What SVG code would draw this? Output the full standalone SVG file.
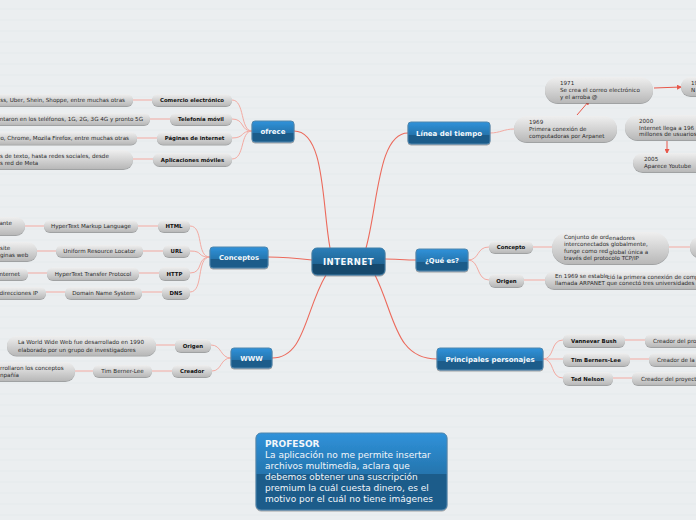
<svg xmlns="http://www.w3.org/2000/svg" width="696" height="520" viewBox="0 0 696 520">
<style>
text{font-family:"DejaVu Sans",Verdana,sans-serif}
.g{fill:url(#gray);filter:url(#sh)}
.b{fill:url(#blue);stroke:#4f86ad;stroke-width:1;filter:url(#sh)}
.t{font-size:5.6px;fill:#2a2a2a}
.k{font-size:5.4px;font-weight:bold;fill:#111}
.m{font-size:6.8px;font-weight:bold;fill:#f4f8fb}
.w{font-size:7px}
.c{fill:none;stroke:#ec6a5c;stroke-width:1.1}
.p{fill:none;stroke:#f3aaa2;stroke-width:1}
.a{fill:none;stroke:#e8574a;stroke-width:1;marker-end:url(#ah)}
</style>
<defs>
<pattern id="bg" width="8" height="11" patternUnits="userSpaceOnUse"><rect width="8" height="11" fill="#ebeef0"/><rect y="8" width="8" height="2" fill="#e8ecee"/></pattern>
<linearGradient id="gray" x1="0" y1="0" x2="0" y2="1"><stop offset="0" stop-color="#efefef"/><stop offset="1" stop-color="#b8b8b8"/></linearGradient>
<linearGradient id="blue" x1="0" y1="0" x2="0" y2="1"><stop offset="0" stop-color="#3092da"/><stop offset=".58" stop-color="#2575ae"/><stop offset=".58" stop-color="#1f5c8a"/><stop offset="1" stop-color="#1f5c8a"/></linearGradient>
<linearGradient id="blue2" x1="0" y1="0" x2="0" y2="1"><stop offset="0" stop-color="#3092da"/><stop offset=".53" stop-color="#2575ae"/><stop offset=".53" stop-color="#1f5c8a"/><stop offset="1" stop-color="#1f5c8a"/></linearGradient>
<linearGradient id="blued" x1="0" y1="0" x2="0" y2="1"><stop offset="0" stop-color="#2c7fb9"/><stop offset=".6" stop-color="#1f6494"/><stop offset=".6" stop-color="#174a6d"/><stop offset="1" stop-color="#174a6d"/></linearGradient>
<filter id="sh" x="-10%" y="-20%" width="120%" height="150%"><feDropShadow dx="0" dy="1" stdDeviation=".7" flood-color="#555" flood-opacity=".5"/></filter>
<marker id="ah" markerWidth="5" markerHeight="5" refX="4" refY="2.5" orient="auto" markerUnits="userSpaceOnUse"><path d="M0 0L5 2.5L0 5z" fill="#e8574a"/></marker>
</defs>
<rect width="696" height="520" fill="url(#bg)"/>
<g id="connectors">
<path class="c" d="M330 248C322 205 325 131 294 131"/>
<path class="c" d="M366 248C378 205 378 133 408 133"/>
<path class="c" d="M312 260C295 258 285 257 268 257"/>
<path class="c" d="M385 259C395 259 405 260 416 260"/>
<path class="c" d="M326 275C305 310 305 358 272 358"/>
<path class="c" d="M375 275C395 315 395 359 437 359"/>
<path class="p" d="M252 131C240 131 245 100 232 100"/>
<path class="p" d="M252 131C240 131 245 119 232 119"/>
<path class="p" d="M252 131C240 131 245 138 232 138"/>
<path class="p" d="M252 131C240 131 245 159 232 159"/>
<path class="p" d="M152 100H133M170 119H150M157 138H137M153 159H133"/>
<path class="p" d="M210 257C196 257 204 226 190 226"/>
<path class="p" d="M210 257C196 257 204 251 190 251"/>
<path class="p" d="M210 257C196 257 204 273 190 273"/>
<path class="p" d="M210 257C196 257 204 292 190 292"/>
<path class="p" d="M158 226H138M163 251H143M159 273H139M162 292H142M44 226H25M56 251H37M47 273H28M65 292H46"/>
<path class="p" d="M231 358C220 358 222 345 211 345"/>
<path class="p" d="M231 358C220 358 222 371 212 371"/>
<path class="p" d="M175 345H156M172 371H152M93 371H75"/>
<path class="p" d="M490 133C500 133 504 129 514 129"/>
<path class="p" d="M468 260C480 260 476 247 489 247"/>
<path class="p" d="M468 260C480 260 476 280 489 280"/>
<path class="p" d="M533 247H552M524 280H545M669 247H690"/>
<path class="p" d="M543 359C555 359 550 340 563 340"/>
<path class="p" d="M543 359H563"/>
<path class="p" d="M543 359C555 359 550 378 563 378"/>
<path class="p" d="M625 340H645M630 359H649M613 378H632"/>
<path class="a" d="M577 115L589 101"/>
<path class="a" d="M654 88L681 87"/>
<path class="a" d="M667 141V153"/>
</g>
<g id="internet"><rect x="312" y="248" width="73" height="27" rx="5" fill="url(#blued)" stroke="#3f7ea8" filter="url(#sh)"/><text class="m" x="348.500" y="265" text-anchor="middle" style="font-size:8.500px" letter-spacing=".5">INTERNET</text></g>
<g id="ofrece"><rect class="b" x="252" y="121" width="42" height="21" rx="3"/><text class="m w" x="273" y="134" text-anchor="middle">ofrece</text></g>
<g id="conceptos"><rect class="b" x="210" y="247" width="58" height="21" rx="3"/><text class="m" x="239" y="260" text-anchor="middle">Conceptos</text></g>
<g id="www"><rect class="b" x="231" y="348" width="41" height="20" rx="3"/><text class="m" x="251.500" y="361" text-anchor="middle">WWW</text></g>
<g id="linea"><rect class="b" x="408" y="122" width="82" height="22" rx="3"/><text class="m w" x="449" y="135.500" text-anchor="middle">Línea del tiempo</text></g>
<g id="que"><rect class="b" x="416" y="249" width="52" height="22" rx="3"/><text class="m" x="442" y="262.500" text-anchor="middle">¿Qué es?</text></g>
<g id="personajes"><rect class="b" x="437" y="348" width="106" height="22" rx="3"/><text class="m w" x="490" y="361.500" text-anchor="middle">Principales personajes</text></g>

<g id="comercio"><rect class="g" x="152" y="94" width="80" height="12" rx="6"/><text class="k" x="192" y="102" text-anchor="middle">Comercio electrónico</text></g>
<g id="telefonia"><rect class="g" x="170" y="113" width="62" height="12" rx="6"/><text class="k" x="201" y="121" text-anchor="middle">Telefonía móvil</text></g>
<g id="paginas"><rect class="g" x="157" y="132" width="75" height="12.500" rx="6"/><text class="k" x="194.500" y="140" text-anchor="middle">Páginas de internet</text></g>
<g id="apps"><rect class="g" x="153" y="153" width="79" height="13" rx="6.500"/><text class="k" x="192.500" y="162" text-anchor="middle">Aplicaciones móviles</text></g>
<g id="l1"><rect class="g" x="-20" y="94" width="153" height="12" rx="6"/><text class="t" x="125" y="101.800" text-anchor="end">ss, Uber, Shein, Shoppe, entre muchas otras</text></g>
<g id="l2"><rect class="g" x="-20" y="113" width="170" height="12" rx="6"/><text class="t" x="143" y="120.800" text-anchor="end">ntaron en los teléfonos, 1G, 2G, 3G 4G y pronto 5G</text></g>
<g id="l3"><rect class="g" x="-20" y="132" width="157" height="12.500" rx="6"/><text class="t" x="129" y="139.800" text-anchor="end">eo, Chrome, Mozila Firefox, entre muchas otras</text></g>
<g id="l4"><rect class="g" x="-30" y="150" width="163" height="19" rx="9.500"/><text class="t" x="0" y="158">s de texto, hasta redes sociales, desde</text><text class="t" x="0" y="165">s red de Meta</text></g>

<g id="html"><rect class="g" x="158" y="220" width="32" height="12" rx="6"/><text class="k" x="174" y="228" text-anchor="middle">HTML</text></g>
<g id="url"><rect class="g" x="163" y="245" width="27" height="12" rx="6"/><text class="k" x="176.500" y="253" text-anchor="middle">URL</text></g>
<g id="http"><rect class="g" x="159" y="267" width="31" height="13" rx="6"/><text class="k" x="174.500" y="276" text-anchor="middle">HTTP</text></g>
<g id="dns"><rect class="g" x="162" y="286" width="28" height="13" rx="6"/><text class="k" x="176" y="295" text-anchor="middle">DNS</text></g>
<g id="hml"><rect class="g" x="44" y="220" width="94" height="12" rx="6"/><text class="t" x="91" y="228" text-anchor="middle">HyperText Markup Language</text></g>
<g id="url2"><rect class="g" x="56" y="245" width="87" height="12" rx="6"/><text class="t" x="99.500" y="253" text-anchor="middle">Uniform Resource Locator</text></g>
<g id="htp"><rect class="g" x="47" y="267.500" width="92" height="12.500" rx="6"/><text class="t" x="93" y="276" text-anchor="middle">HyperText Transfer Protocol</text></g>
<g id="dns2"><rect class="g" x="65" y="287" width="77" height="12" rx="6"/><text class="t" x="103.500" y="295" text-anchor="middle">Domain Name System</text></g>
<g id="l5"><rect class="g" x="-30" y="217" width="55" height="18" rx="9"/><text class="t" x="12" y="224.500" text-anchor="end">ante</text></g>
<g id="l6"><rect class="g" x="-30" y="242" width="67" height="19" rx="9.500"/><text class="t" x="0" y="250">site</text><text class="t" x="0" y="257">ginas web</text></g>
<g id="l7"><rect class="g" x="-20" y="268" width="48" height="12" rx="6"/><text class="t" x="20" y="275.500" text-anchor="end">Internet</text></g>
<g id="l8"><rect class="g" x="-20" y="287" width="66" height="12" rx="6"/><text class="t" x="38" y="294.500" text-anchor="end">direcciones IP</text></g>

<g id="origen1"><rect class="g" x="175" y="339" width="36" height="13" rx="6"/><text class="k" x="193" y="347.500" text-anchor="middle">Origen</text></g>
<g id="creador"><rect class="g" x="172" y="365" width="40" height="12" rx="6"/><text class="k" x="192" y="373" text-anchor="middle">Creador</text></g>
<g id="tim"><rect class="g" x="93" y="365" width="59" height="12" rx="6"/><text class="t" x="122.500" y="373" text-anchor="middle">Tim Berner-Lee</text></g>
<g id="l9"><rect class="g" x="7" y="336" width="149" height="19.500" rx="9.500"/><text class="t" x="18" y="344">La World Wide Web fue desarrollado en 1990</text><text class="t" x="18" y="351.500">elaborado por un grupo de investigadores</text></g>
<g id="l10"><rect class="g" x="-30" y="362" width="105" height="19" rx="9.500"/><text class="t" x="0" y="369.500">rrollaron los conceptos</text><text class="t" x="0" y="377">npañía</text></g>

<g id="y1969"><rect class="g" x="514" y="116" width="103" height="26" rx="13"/><text class="t" x="529" y="124">1969</text><text class="t" x="529" y="131">Primera conexión de</text><text class="t" x="529" y="137.500">computadoras por Arpanet</text></g>
<g id="y1971"><rect class="g" x="545" y="77" width="108" height="26" rx="13"/><text class="t" x="560" y="85">1971</text><text class="t" x="560" y="92">Se crea el correo electrónico</text><text class="t" x="560" y="98.500">y el arroba @</text></g>
<g id="y19"><rect class="g" x="681" y="77" width="40" height="19" rx="9.500"/><text class="t" x="691" y="85">19</text><text class="t" x="691" y="92">N</text></g>
<g id="y2000"><rect class="g" x="625" y="115" width="100" height="25" rx="12.500"/><text class="t" x="639" y="123">2000</text><text class="t" x="639" y="130">Internet llega a 196</text><text class="t" x="639" y="136">millones de usuarios</text></g>
<g id="y2005"><rect class="g" x="633" y="153" width="80" height="19" rx="9.500"/><text class="t" x="644" y="161">2005</text><text class="t" x="644" y="168">Aparece Youtube</text></g>

<g id="concepto"><rect class="g" x="489" y="241" width="44" height="12" rx="6"/><text class="k" x="511" y="249" text-anchor="middle">Concepto</text></g>
<g id="origen2"><rect class="g" x="489" y="274" width="35" height="13" rx="6"/><text class="k" x="506.500" y="282.500" text-anchor="middle">Origen</text></g>
<g id="c1"><rect class="g" x="552" y="232" width="117" height="32" rx="16"/><text class="t" x="564" y="238.500">Conjunto de ord<tspan x="609" y="239.500">enadores</tspan></text><text class="t" x="564" y="246">interconectados globalmente,</text><text class="t" x="564" y="252.500">funge como red<tspan x="609" y="253.500">global única a</tspan></text><text class="t" x="564" y="259.500">través del protocolo TCP/IP</text></g>
<g id="c2"><rect class="g" x="690" y="236" width="30" height="22" rx="11"/></g>
<g id="c3"><rect class="g" x="545" y="271" width="170" height="18" rx="9"/><text class="t" x="555" y="278">En 1969 se estable<tspan x="607" y="279">ció la primera conexión de comp</tspan></text><text class="t" x="555" y="285">llamada ARPANET que conectó tres universidades e</text></g>

<g id="vannevar"><rect class="g" x="563" y="334" width="62" height="13" rx="6"/><text class="k" x="571" y="342.500">Vannevar Bush</text></g>
<g id="timb"><rect class="g" x="563" y="353" width="67" height="13" rx="6"/><text class="k" x="571" y="361.500">Tim Berners-Lee</text></g>
<g id="ted"><rect class="g" x="563" y="372" width="50" height="13" rx="6"/><text class="k" x="571" y="380.500">Ted Nelson</text></g>
<g id="p1"><rect class="g" x="645" y="334" width="70" height="13" rx="6"/><text class="t" x="653" y="342.500">Creador del pro</text></g>
<g id="p2"><rect class="g" x="649" y="353" width="70" height="13" rx="6"/><text class="t" x="657" y="361.500">Creador de la</text></g>
<g id="p3"><rect class="g" x="632" y="372" width="80" height="13" rx="6"/><text class="t" x="641" y="380.500">Creador del proyecto</text></g>

<g id="profesor"><rect x="256" y="433" width="191" height="77" rx="5" fill="url(#blue2)" stroke="#4f86ad" filter="url(#sh)"/><g fill="#f2f6fa" style="font-size:9px"><text x="265" y="447" font-weight="bold">PROFESOR</text><text x="265" y="458">La aplicación no me permite insertar</text><text x="265" y="469">archivos multimedia, aclara que</text><text x="265" y="480">debemos obtener una suscripción</text><text x="265" y="491">premium la cuál cuesta dinero, es el</text><text x="265" y="502">motivo por el cuál no tiene imágenes</text></g></g>
</svg>
